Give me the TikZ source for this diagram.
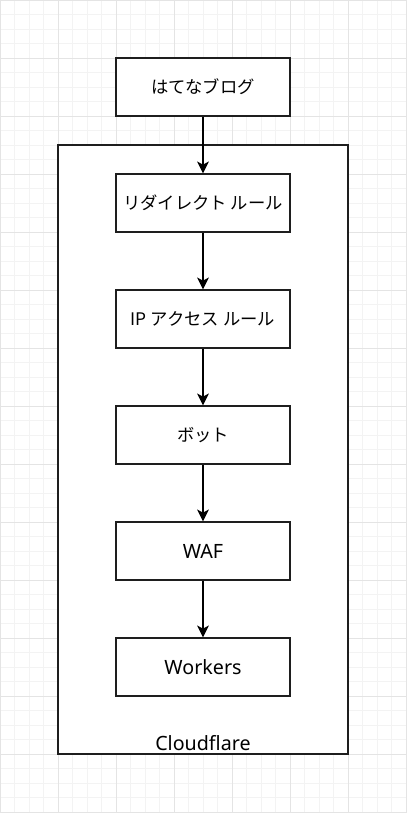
\documentclass[tikz,border=0pt]{standalone}
\usepackage{fontspec}
\setmainfont{Noto Sans}
\newfontfamily\jpfont{Noto Sans CJK JP}
\usetikzlibrary{positioning}
\usetikzlibrary{arrows.meta}

\definecolor{gridminor}{RGB}{243, 243, 243}
\definecolor{gridmajor}{RGB}{228, 228, 228}
\definecolor{stroke}{RGB}{30, 30, 30}

\tikzset{
	stepbox/.style = {draw = stroke, fill = white, line width = 1.4pt, minimum width = 6cm, minimum height = 2cm, inner sep = 0pt},
	jptext/.style = {font = \jpfont\fontsize{17}{19}\selectfont},
	entext/.style = {font = \fontsize{19.3}{22}\selectfont},
	flow/.style = {draw = black, line width = 1.4pt, -{Stealth[length = 11.5pt, width = 11.5pt, inset = 3pt]}}
}

\begin{document}
\begin{tikzpicture}[x = 0.5cm, y = -0.5cm]
					\useasboundingbox (0, 0) rectangle (28.07, 56.07);
					% grid
					\foreach \i in {0, ..., 56} \draw [gridminor, line width = 0.75pt] (0, \i) -- (28.07, \i);
					\foreach \i in {0, ..., 28} \draw [gridminor, line width = 0.75pt] (\i, 0) -- (\i, 56.07);
					\foreach \i in {0, 4, ..., 56} \draw [gridmajor, line width = 0.75pt] (0, \i) -- (28.07, \i);
					\foreach \i in {0, 4, ..., 28} \draw [gridmajor, line width = 0.75pt] (\i, 0) -- (\i, 56.07);
					% container
					\node (cloudflare) [draw = stroke, fill = white, line width = 1.4pt, minimum width = 10cm, minimum height = 21cm, inner sep = 0pt] at (14, 31) {};
					\node (cloudflare label) [entext] at (14, 51.25) {Cloudflare};
					% steps
					\node (blog) [stepbox, jptext] at (14, 6) {はてなブログ};
					\node (redirect) [stepbox, jptext] at (14, 14) {リダイレクト ルール};
					\node (ipaccess) [stepbox, jptext] at (14, 22) {IP アクセス ルール};
					\node (bot) [stepbox, jptext] at (14, 30) {ボット};
					\node (waf) [stepbox, entext] at (14, 38) {WAF};
					\node (workers) [stepbox, entext] at (14, 46) {Workers};
					% arrows
					\draw [flow] (blog) -- (redirect);
					\draw [flow] (redirect) -- (ipaccess);
					\draw [flow] (ipaccess) -- (bot);
					\draw [flow] (bot) -- (waf);
					\draw [flow] (waf) -- (workers);
				\end{tikzpicture}
\end{document}
